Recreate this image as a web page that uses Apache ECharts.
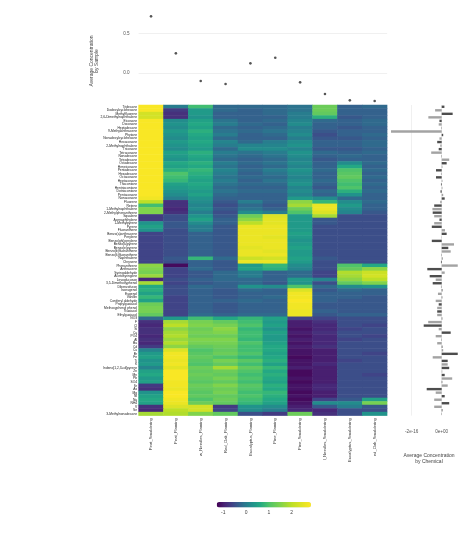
<!DOCTYPE html>
<html><head><meta charset="utf-8">
<script src="https://cdn.jsdelivr.net/npm/echarts@6/dist/echarts.min.js"></script>
<style>html,body{margin:0;padding:0;background:#fff}#c{width:474px;height:537px}</style>
</head><body><div id="c"></div>
<script>
const samples = ["Peat_Smoldering","Peat_Flaming","w_Needles_Flaming","Red_Oak_Flaming","Eucalyptus_Flaming","Pine_Flaming","Pine_Smoldering","l_Needles_Smoldering","Eucalyptus_Smoldering","ed_Oak_Smoldering"];

const chemicals = ["Tridecane","Dodecylcyclohexane","Methylfluorene","2,6-Dimethylnaphthalene","Eicosane","Docosane","Heptadecane","9-Methylanthracene","Phytane","Nonadecylcyclohexane",
"Hexacosane","2-Methylnaphthalene","Tricosane","Tetracosane","Nonadecane","Tetradecane","Octadecane","Heneicosane","Pentadecane","Hexadecane",
"Octacosane","Heptacosane","Triacontane","Hentriacontane","Dotriacontane","Pentacosane","Nonacosane","Fluorene","Retene","1-Methylnaphthalene",
"2-Methylphenanthrene","Squalene","Acenaphthylene","1-Methylpyrene","Pyrene","Fluoranthene","Benzo(a)anthracene","Perylene","Benzo(ghi)perylene","Benzo(a)pyrene",
"Benzo(e)pyrene","Benzo(b)fluoranthene","Benzo(k)fluoranthene","Naphthalene","Chrysene","Phenanthrene","Anthracene","Syringaldehyde","Acetosyringone","Levoglucosan",
"3,5-Dimethoxyphenol","Dibenzofuran","Isoeugenol","Eugenol","Vanillin","Coniferyl aldehyde","Propylguaiacol","Methoxyphenyl phenol","Guaiacol","Ethylguaiacol",
"NO3","F","Cl","Si","Ca","PO4","Al","Ba","Cd","Cu",
"Br","Fe","Ti","K","Indeno[1,2,3-cd]pyrene","Zn","Mn","Pb","SO4","Sr",
"As","Mg","Ni","Na","NH4","V","Se","3-Methylnonadecane"];

const sampleMeans = [0.714, 0.248, -0.101, -0.139, 0.122, 0.193, -0.117, -0.264, -0.344, -0.353];

// values are ~1e-16
const chemicalMeans = [0.18e-16,-0.44e-16,0.73e-16,-0.89e-16,-0.15e-16,-0.2e-16,0.02e-16,-3.38e-16,0.1e-16,-0.15e-16,
-0.3e-16,-0.1e-16,-0.2e-16,-0.7e-16,0.02e-16,0.5e-16,0.33e-16,0.05e-16,-0.38e-16,-0.05e-16,
-0.38e-16,0.05e-16,-0.05e-16,0.05e-16,-0.08e-16,0.1e-16,0.2e-16,-0.1e-16,-0.5e-16,-0.62e-16,
-0.6e-16,-0.5e-16,-0.15e-16,-0.5e-16,-0.66e-16,0.22e-16,0.33e-16,0.02e-16,-0.66e-16,0.82e-16,
0.44e-16,0.6e-16,0.02e-16,0.08e-16,-0.05e-16,1.07e-16,-0.96e-16,0.2e-16,-0.8e-16,-0.4e-16,
-0.6e-16,-0.05e-16,0.05e-16,-0.25e-16,0.04e-16,-0.4e-16,-0.2e-16,-0.3e-16,-0.3e-16,-0.3e-16,
0.04e-16,-0.9e-16,-1.2e-16,-0.2e-16,0.6e-16,-0.4e-16,0.02e-16,-0.3e-16,0.05e-16,0.1e-16,
1.07e-16,-0.6e-16,0.4e-16,0.4e-16,0.5e-16,0.04e-16,0.2e-16,0.7e-16,0.04e-16,0.4e-16,
-1.0e-16,-0.4e-16,0.2e-16,-0.5e-16,0.5e-16,-0.5e-16,0.05e-16,-0.04e-16];

const zScores = [
[2.8,0.0,0.9,-0.2,-0.2,-0.2,-0.1,1.3,-0.3,-0.2],
[2.8,-0.7,0.4,-0.2,-0.3,-0.2,-0.1,1.3,-0.3,-0.3],
[2.3,-0.8,0.4,-0.3,-0.3,-0.2,0.0,1.2,-0.3,-0.3],
[2.3,-0.8,0.3,-0.3,-0.3,-0.3,0.0,0.7,-0.4,-0.3],
[2.8,0.2,0.5,-0.1,-0.3,-0.2,0.1,-0.2,-0.3,-0.2],
[2.8,0.3,0.6,0.0,-0.2,-0.3,0.2,-0.3,-0.3,-0.2],
[2.8,0.2,0.5,-0.2,-0.3,-0.2,0.0,-0.3,-0.4,-0.3],
[2.8,0.4,0.7,-0.1,-0.2,-0.1,0.1,-0.4,-0.3,-0.3],
[2.8,0.3,0.6,0.0,-0.3,-0.2,0.2,-0.5,-0.3,-0.2],
[2.8,0.2,0.5,-0.2,-0.3,-0.3,0.0,-0.4,-0.4,-0.3],
[2.8,0.4,0.6,0.1,-0.2,0.0,0.2,-0.3,-0.3,-0.2],
[2.8,0.3,0.5,0.0,0.1,0.1,0.3,-0.3,-0.3,-0.2],
[2.8,0.2,0.4,-0.2,0.2,0.2,0.1,-0.4,-0.4,-0.3],
[2.8,0.5,0.7,0.0,-0.1,0.0,0.3,-0.2,-0.3,-0.2],
[2.8,0.4,0.6,-0.1,-0.2,-0.1,0.2,-0.3,-0.2,-0.3],
[2.8,0.3,0.5,-0.2,-0.3,-0.2,0.1,-0.4,-0.3,-0.3],
[2.8,0.6,0.7,0.0,-0.2,-0.1,0.2,-0.3,0.2,-0.2],
[2.8,0.5,0.6,-0.1,-0.3,-0.2,0.1,-0.3,0.6,-0.3],
[2.8,0.7,0.8,0.1,-0.2,0.0,0.3,-0.2,1.0,-0.2],
[2.8,1.0,0.7,0.0,-0.3,-0.1,0.2,-0.3,1.1,-0.3],
[2.8,0.9,0.6,-0.1,-0.2,-0.2,0.1,-0.3,1.2,-0.2],
[2.8,0.8,0.5,0.0,-0.3,-0.1,0.2,-0.2,1.0,-0.3],
[2.8,0.5,0.6,-0.1,-0.2,-0.2,0.3,-0.3,0.9,-0.2],
[2.8,0.4,0.5,-0.2,-0.3,-0.3,0.1,-0.4,1.0,-0.3],
[2.8,0.3,0.4,-0.1,-0.2,-0.2,0.2,-0.2,0.7,-0.2],
[2.8,0.2,0.5,-0.2,-0.3,-0.3,0.1,-0.3,0.3,-0.3],
[2.7,0.0,0.3,-0.3,-0.3,-0.3,0.4,0.2,-0.2,-0.3],
[2.0,-0.8,0.2,-0.4,0.0,-0.3,1.6,0.8,0.2,-0.2],
[0.9,-0.8,0.1,-0.5,-0.2,-0.4,1.8,2.6,0.4,-0.3],
[1.5,-0.9,0.2,-0.4,-0.1,-0.3,1.3,2.6,0.2,-0.3],
[1.5,-0.8,0.0,-0.5,0.2,0.0,1.0,2.4,0.1,-0.4],
[-0.7,-0.5,0.3,-0.4,1.3,2.4,0.4,1.8,-0.5,-0.5],
[-0.7,-0.5,0.5,-0.3,1.6,2.5,0.4,-0.4,-0.5,-0.5],
[0.3,-0.4,0.2,-0.3,2.0,2.5,0.4,-0.4,-0.5,-0.5],
[0.5,-0.4,0.0,-0.4,2.6,2.6,0.4,-0.5,-0.5,-0.5],
[0.3,-0.5,0.0,-0.4,2.6,2.6,0.4,-0.5,-0.5,-0.5],
[-0.6,-0.5,-0.3,-0.4,2.6,2.6,0.5,-0.5,-0.5,-0.5],
[-0.6,-0.5,-0.3,-0.4,2.6,2.5,0.4,-0.5,-0.5,-0.5],
[-0.6,-0.5,-0.3,-0.4,2.6,2.6,0.3,-0.5,-0.5,-0.5],
[-0.6,-0.5,-0.3,-0.4,2.6,2.6,0.4,-0.5,-0.5,-0.5],
[-0.6,-0.5,-0.3,-0.4,2.5,2.6,0.5,-0.5,-0.5,-0.5],
[-0.6,-0.5,-0.3,-0.4,2.6,2.5,0.4,-0.5,-0.5,-0.5],
[-0.6,-0.5,-0.3,-0.4,2.6,2.6,0.4,-0.5,-0.5,-0.5],
[-0.6,-0.4,0.8,-0.2,2.2,2.3,0.5,-0.4,-0.5,-0.5],
[-0.6,-0.5,-0.3,-0.4,2.6,2.6,0.4,-0.5,-0.5,-0.5],
[1.6,-1.2,-0.3,-0.4,0.4,0.8,0.2,-0.5,1.0,0.6],
[1.5,-0.6,-0.2,-0.4,0.5,0.7,0.1,-0.5,1.2,1.6],
[1.4,-0.6,-0.4,-0.2,0.0,-0.3,-0.2,-0.6,1.9,2.2],
[1.7,-0.6,-0.4,-0.2,0.0,-0.3,-0.2,-0.6,1.8,2.3],
[-0.9,-0.5,-0.3,-0.2,-0.2,-0.3,0.4,0.1,1.6,2.0],
[1.8,-0.6,-0.4,-0.3,-0.2,-0.4,0.3,-0.5,1.2,1.5],
[0.6,-0.5,-0.2,-0.3,0.3,0.2,1.0,-0.2,0.2,0.3],
[0.7,-0.5,-0.3,-0.4,-0.2,-0.3,2.4,-0.4,-0.2,-0.3],
[0.5,-0.5,-0.3,-0.4,-0.3,-0.3,2.7,-0.3,-0.3,-0.3],
[0.8,-0.6,-0.3,-0.4,-0.3,-0.2,2.7,-0.3,-0.3,-0.4],
[0.5,-0.6,-0.3,-0.3,-0.2,-0.3,2.8,-0.3,-0.4,-0.4],
[1.3,-0.6,-0.3,-0.4,-0.3,-0.3,2.7,-0.4,-0.4,-0.4],
[1.4,-0.6,-0.3,-0.4,-0.3,-0.3,2.7,-0.4,-0.4,-0.4],
[1.4,-0.6,-0.3,-0.4,-0.3,-0.3,2.6,-0.3,-0.4,-0.4],
[1.2,-0.6,-0.2,-0.3,-0.2,-0.2,2.6,-0.4,-0.3,-0.3],
[-0.2,0.4,0.9,0.6,0.8,0.5,-0.6,-0.6,-0.5,-0.5],
[-0.8,1.8,1.4,1.2,0.9,0.4,-1.0,-0.8,-0.5,-0.5],
[-0.9,2.0,1.5,1.4,1.0,0.5,-1.0,-0.9,-0.5,-0.6],
[-0.8,1.6,1.3,1.6,0.8,0.3,-1.1,-0.9,-0.6,-0.5],
[-0.8,1.8,1.4,1.5,0.9,0.5,-1.0,-0.8,-0.5,-0.5],
[-0.9,1.9,1.3,1.3,0.9,0.4,-1.1,-0.9,-0.5,-0.6],
[-0.8,1.7,1.5,1.5,0.8,0.4,-1.0,-0.9,-0.6,-0.5],
[-0.9,1.9,1.4,1.4,1.0,0.5,-1.1,-0.9,-0.5,-0.5],
[-0.7,1.6,1.2,1.3,0.9,0.6,-1.0,-0.8,-0.5,-0.5],
[0.1,2.4,1.0,1.2,0.9,0.6,-1.1,-1.0,-0.5,-0.5],
[0.4,2.7,1.1,1.3,1.0,0.5,-1.1,-1.0,-0.5,-0.6],
[0.5,2.7,1.2,1.0,0.8,0.6,-1.2,-1.0,-0.5,-0.5],
[0.3,2.6,1.1,1.4,1.1,0.7,-1.1,-1.0,-0.6,-0.5],
[0.4,2.7,1.0,1.2,0.9,0.5,-1.1,-0.9,-0.5,-0.5],
[0.1,2.5,1.3,1.8,1.2,0.8,-1.0,-1.0,-0.5,-0.5],
[0.5,2.8,1.2,1.3,1.0,0.6,-1.2,-1.0,-0.5,-0.5],
[0.6,2.8,1.3,1.2,0.9,0.7,-1.2,-1.0,-0.5,-0.6],
[0.4,2.8,1.2,1.4,1.0,0.6,-1.1,-1.0,-0.5,-0.5],
[0.5,2.7,1.1,1.2,0.9,0.5,-1.2,-1.0,-0.5,-0.5],
[-0.7,2.7,1.3,1.5,1.1,0.7,-1.1,-0.9,-0.5,-0.5],
[-0.8,2.6,1.2,1.3,1.0,0.6,-1.1,-0.9,-0.5,-0.5],
[0.3,2.8,1.1,1.4,0.9,0.8,-1.2,-1.0,-0.5,-0.5],
[0.5,2.8,1.2,1.2,1.0,0.7,-1.1,-1.0,-0.5,-0.5],
[0.6,2.7,1.0,1.3,0.9,0.6,-1.2,-0.6,-0.4,0.5],
[0.5,2.6,1.3,1.2,0.8,0.5,-1.1,0.2,0.2,1.4],
[-0.8,2.4,2.3,-0.7,0.3,0.2,-1.0,-0.4,0.0,-0.4],
[-0.9,2.0,2.3,-0.6,0.2,0.0,-0.9,-0.9,-0.5,-0.5],
[1.8,1.9,1.5,1.2,-0.5,-0.7,1.3,-0.8,-0.5,0.3]
];

const topTicks = [0, 0.5];
const barTicks = [-2e-16, 0];
const legendTicks = [-1, 0, 1, 2];
const colorMin = -1.29, colorMax = 2.85;

// ---- colour scale (viridis, spread as in the legend) ----
const viridis = ['#440154','#482475','#414487','#355f8d','#2a788e','#21918c','#22a884','#44bf70','#7ad151','#bddf26','#fde725'];
const knotV = [-1.29, -0.6, 0, 1, 2, 2.85];
const knotF = [0, 0.2, 0.42, 0.72, 0.9, 1];
function hex(h){return [1,3,5].map(i=>parseInt(h.substr(i,2),16));}
function vir(f){
  f=Math.max(0,Math.min(1,f)); const p=f*10, i=Math.min(9,Math.floor(p)), t=p-i;
  const a=hex(viridis[i]), b=hex(viridis[i+1]);
  return 'rgb('+a.map((x,k)=>Math.round(x+(b[k]-x)*t)).join(',')+')';
}
function mapF(v){
  for(let i=0;i<knotV.length-1;i++){
    if(v<=knotV[i+1]){const t=(v-knotV[i])/(knotV[i+1]-knotV[i]);return knotF[i]+t*(knotF[i+1]-knotF[i]);}
  }
  return 1;
}
const colorStops=[];
for(let k=0;k<=80;k++){colorStops.push(vir(mapF(colorMin+(colorMax-colorMin)*k/80)));}

function sci(v){
  if(v===0) return '0e+00';
  const e=Math.floor(Math.log10(Math.abs(v))+1e-9); const m=Math.round(v/Math.pow(10,e));
  return m+'e'+(e<0?'-':'+')+String(Math.abs(e)).padStart(2,'0');
}

const heatData=[];
zScores.forEach((row,r)=>row.forEach((v,c)=>heatData.push([c,r,v])));

const FONT='Liberation Sans, Arial, sans-serif';
const hmLeft=138.6, hmWidth=248.5, hmTop=105, hmHeight=310.6;

const chart=echarts.init(document.getElementById('c'),null,{renderer:'canvas'});
chart.setOption({
  animation:false,
  backgroundColor:'#fff',
  textStyle:{fontFamily:FONT},
  grid:[
    {left:hmLeft,width:hmWidth,top:9.5,height:95.3},
    {left:hmLeft,width:hmWidth,top:hmTop,height:hmHeight},
    {left:389.2,width:70.5,top:hmTop,height:hmHeight},
    {left:216.7,width:94.3,top:502,height:5.5}
  ],
  xAxis:[
    {gridIndex:0,type:'category',data:samples,show:false},
    {gridIndex:1,type:'category',data:samples,axisLine:{show:false},axisTick:{show:false},
      axisLabel:{interval:0,rotate:90,fontSize:4.2,color:'#333',margin:2.5,fontFamily:FONT}},
    {gridIndex:2,type:'value',min:-3.5e-16,max:1.2e-16,axisLine:{show:false},
      axisTick:{show:false,customValues:barTicks},
      splitLine:{show:true,lineStyle:{color:'#e6e6e6',width:0.6}},
      axisLabel:{customValues:barTicks,formatter:sci,fontSize:4.6,color:'#555',margin:14,fontFamily:FONT}},
    {gridIndex:3,type:'value',min:colorMin,max:colorMax,axisLine:{show:false},axisTick:{show:false},splitLine:{show:false},
      axisLabel:{customValues:legendTicks,fontSize:5,color:'#444',margin:3,fontFamily:FONT}}
  ],
  yAxis:[
    {gridIndex:0,type:'value',min:-0.4,max:0.8,axisLine:{show:false},
      axisTick:{show:false,customValues:topTicks},
      splitLine:{show:true,lineStyle:{color:'#e6e6e6',width:0.6}},
      axisLabel:{customValues:topTicks,formatter:v=>v.toFixed(1),fontSize:4.6,color:'#555',margin:9,fontFamily:FONT}},
    {gridIndex:1,type:'category',data:chemicals,inverse:true,axisLine:{show:false},axisTick:{show:false},
      axisLabel:{interval:0,fontSize:3.3,color:'#222',margin:1.5,fontFamily:FONT}},
    {gridIndex:2,type:'category',data:chemicals,inverse:true,show:false},
    {gridIndex:3,type:'value',show:false}
  ],
  visualMap:{type:'continuous',seriesIndex:1,min:colorMin,max:colorMax,orient:'horizontal',
    left:216.7,top:502,itemWidth:5.5,itemHeight:94.3,padding:0,calculable:false,hoverLink:false,
    text:null,showLabel:false,inRange:{color:colorStops}},
  graphic:[
    {type:'text',x:94.2,y:61,rotation:Math.PI/2,style:{text:'Average Concentration\nby Sample',align:'center',verticalAlign:'middle',fontSize:5,lineHeight:5.2,fill:'#444',fontFamily:FONT}},
    {type:'text',x:429,y:458.5,style:{text:'Average Concentration\nby Chemical',align:'center',verticalAlign:'middle',fontSize:5,lineHeight:5.6,fill:'#444',fontFamily:FONT}}
  ],
  series:[
    {type:'scatter',xAxisIndex:0,yAxisIndex:0,data:sampleMeans,symbolSize:2.6,itemStyle:{color:'#2b2b2b'},silent:true},
    {type:'heatmap',xAxisIndex:1,yAxisIndex:1,data:heatData,progressive:0,silent:true,emphasis:{disabled:true}},
    {type:'bar',xAxisIndex:2,yAxisIndex:2,barWidth:'68%',silent:true,
      data:chemicalMeans.map((v,i)=>({value:v,itemStyle:{color:i%2===0?'#4d4d4d':'#a3a3a3'}}))}
  ]
});
</script></body></html>
